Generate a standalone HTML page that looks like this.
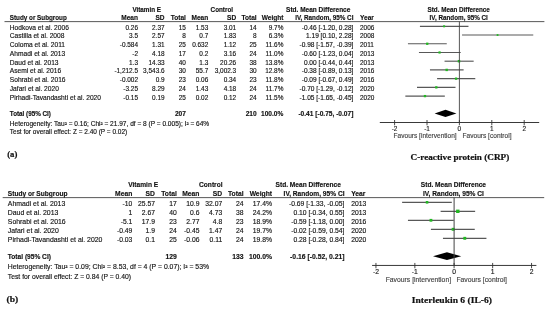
<!DOCTYPE html>
<html><head><meta charset="utf-8"><title>Forest plots</title>
<style>html,body{margin:0;padding:0;background:#fff}svg{display:block}text{stroke:#111;stroke-width:.14px}.f{stroke:#444}</style></head>
<body><svg width="550" height="310" viewBox="0 0 550 310" font-family="'Liberation Sans', sans-serif" fill="#111" style="filter:blur(0.3px)">
<rect width="550" height="310" fill="#fff"/>
<g font-size="6.45">
<text x="146.70" y="11.66" text-anchor="middle" font-weight="bold" font-size="6.3">Vitamin E</text>
<text x="221.80" y="11.66" text-anchor="middle" font-weight="bold" font-size="6.3">Control</text>
<text x="318.20" y="11.66" text-anchor="middle" font-weight="bold" font-size="6.5">Std. Mean Difference</text>
<text x="458.70" y="11.66" text-anchor="middle" font-weight="bold" font-size="6.3">Std. Mean Difference</text>
<text x="9.80" y="20.26" font-weight="bold" font-size="6.3">Study or Subgroup</text>
<text x="138.00" y="20.26" text-anchor="end" font-weight="bold" font-size="6.55">Mean</text>
<text x="164.60" y="20.26" text-anchor="end" font-weight="bold" font-size="6.55">SD</text>
<text x="185.90" y="20.26" text-anchor="end" font-weight="bold" font-size="6.55">Total</text>
<text x="208.25" y="20.26" text-anchor="end" font-weight="bold" font-size="6.55">Mean</text>
<text x="236.20" y="20.26" text-anchor="end" font-weight="bold" font-size="6.55">SD</text>
<text x="256.70" y="20.26" text-anchor="end" font-weight="bold" font-size="6.55">Total</text>
<text x="283.40" y="20.26" text-anchor="end" font-weight="bold" font-size="6.55">Weight</text>
<text x="353.40" y="20.26" text-anchor="end" font-weight="bold" font-size="6.3">IV, Random, 95% CI</text>
<text x="360.00" y="20.26" font-weight="bold" font-size="6.55">Year</text>
<text x="458.70" y="20.26" text-anchor="middle" font-weight="bold" font-size="6.3">IV, Random, 95% CI</text>
<line x1="4.50" y1="21.62" x2="544.40" y2="21.62" stroke="#3a3a3a" stroke-width="0.85"/>
<text x="9.80" y="29.71" font-size="6.65">Hodkova et al. 2006</text>
<text x="138.00" y="29.71" text-anchor="end">0.26</text>
<text x="164.60" y="29.71" text-anchor="end">2.37</text>
<text x="185.90" y="29.71" text-anchor="end">15</text>
<text x="208.25" y="29.71" text-anchor="end">1.53</text>
<text x="236.20" y="29.71" text-anchor="end">3.01</text>
<text x="256.70" y="29.71" text-anchor="end">14</text>
<text x="283.40" y="29.71" text-anchor="end">9.7%</text>
<text x="353.40" y="29.71" text-anchor="end" font-size="6.55">-0.46 [-1.20, 0.28]</text>
<text x="360.00" y="29.71">2006</text>
<line x1="419.92" y1="26.30" x2="468.47" y2="26.30" stroke="#585858" stroke-width="1.15"/>
<rect x="443.10" y="25.30" width="2.0" height="2.0" fill="#22b822"/>
<text x="9.80" y="38.43" font-size="6.65">Castilla et al. 2008</text>
<text x="138.00" y="38.43" text-anchor="end">3.5</text>
<text x="164.60" y="38.43" text-anchor="end">2.57</text>
<text x="185.90" y="38.43" text-anchor="end">8</text>
<text x="208.25" y="38.43" text-anchor="end">0.7</text>
<text x="236.20" y="38.43" text-anchor="end">1.83</text>
<text x="256.70" y="38.43" text-anchor="end">8</text>
<text x="283.40" y="38.43" text-anchor="end">6.3%</text>
<text x="353.40" y="38.43" text-anchor="end" font-size="6.55">1.19 [0.10, 2.28]</text>
<text x="360.00" y="38.43">2008</text>
<line x1="462.04" y1="35.02" x2="533.27" y2="35.02" stroke="#585858" stroke-width="1.15"/>
<rect x="496.66" y="34.12" width="1.8" height="1.8" fill="#22b822"/>
<text x="9.80" y="47.16" font-size="6.65">Coloma et al. 2011</text>
<text x="138.00" y="47.16" text-anchor="end">-0.584</text>
<text x="164.60" y="47.16" text-anchor="end">1.31</text>
<text x="185.90" y="47.16" text-anchor="end">25</text>
<text x="208.25" y="47.16" text-anchor="end">0.632</text>
<text x="236.20" y="47.16" text-anchor="end">1.12</text>
<text x="256.70" y="47.16" text-anchor="end">25</text>
<text x="283.40" y="47.16" text-anchor="end">11.6%</text>
<text x="353.40" y="47.16" text-anchor="end" font-size="6.55">-0.98 [-1.57, -0.39]</text>
<text x="360.00" y="47.16">2011</text>
<line x1="407.93" y1="43.75" x2="446.76" y2="43.75" stroke="#585858" stroke-width="1.15"/>
<rect x="426.10" y="42.60" width="2.3" height="2.3" fill="#22b822"/>
<text x="9.80" y="55.88" font-size="6.65">Ahmadi et al. 2013</text>
<text x="138.00" y="55.88" text-anchor="end">-2</text>
<text x="164.60" y="55.88" text-anchor="end">4.18</text>
<text x="185.90" y="55.88" text-anchor="end">17</text>
<text x="208.25" y="55.88" text-anchor="end">0.2</text>
<text x="236.20" y="55.88" text-anchor="end">3.16</text>
<text x="256.70" y="55.88" text-anchor="end">24</text>
<text x="283.40" y="55.88" text-anchor="end">11.0%</text>
<text x="353.40" y="55.88" text-anchor="end" font-size="6.55">-0.60 [-1.23, 0.04]</text>
<text x="360.00" y="55.88">2013</text>
<line x1="418.95" y1="52.47" x2="460.70" y2="52.47" stroke="#585858" stroke-width="1.15"/>
<rect x="438.46" y="51.37" width="2.2" height="2.2" fill="#22b822"/>
<text x="9.80" y="64.61" font-size="6.65">Daud et al. 2013</text>
<text x="138.00" y="64.61" text-anchor="end">1.3</text>
<text x="164.60" y="64.61" text-anchor="end">14.33</text>
<text x="185.90" y="64.61" text-anchor="end">40</text>
<text x="208.25" y="64.61" text-anchor="end">1.3</text>
<text x="236.20" y="64.61" text-anchor="end">20.26</text>
<text x="256.70" y="64.61" text-anchor="end">38</text>
<text x="283.40" y="64.61" text-anchor="end">13.8%</text>
<text x="353.40" y="64.61" text-anchor="end" font-size="6.55">0.00 [-0.44, 0.44]</text>
<text x="360.00" y="64.61">2013</text>
<line x1="444.54" y1="61.20" x2="473.66" y2="61.20" stroke="#585858" stroke-width="1.15"/>
<rect x="457.75" y="59.95" width="2.5" height="2.5" fill="#22b822"/>
<text x="9.80" y="73.33" font-size="6.65">Asemi et al. 2016</text>
<text x="138.00" y="73.33" text-anchor="end">-1,212.5</text>
<text x="164.60" y="73.33" text-anchor="end">3,543.6</text>
<text x="185.90" y="73.33" text-anchor="end">30</text>
<text x="208.25" y="73.33" text-anchor="end">55.7</text>
<text x="236.20" y="73.33" text-anchor="end">3,002.3</text>
<text x="256.70" y="73.33" text-anchor="end">30</text>
<text x="283.40" y="73.33" text-anchor="end">12.8%</text>
<text x="353.40" y="73.33" text-anchor="end" font-size="6.55">-0.38 [-0.89, 0.13]</text>
<text x="360.00" y="73.33">2016</text>
<line x1="429.96" y1="69.93" x2="463.61" y2="69.93" stroke="#585858" stroke-width="1.15"/>
<rect x="445.49" y="68.73" width="2.4" height="2.4" fill="#22b822"/>
<text x="9.80" y="82.06" font-size="6.65">Sohrabi et al. 2016</text>
<text x="138.00" y="82.06" text-anchor="end">-0.002</text>
<text x="164.60" y="82.06" text-anchor="end">0.9</text>
<text x="185.90" y="82.06" text-anchor="end">23</text>
<text x="208.25" y="82.06" text-anchor="end">0.06</text>
<text x="236.20" y="82.06" text-anchor="end">0.34</text>
<text x="256.70" y="82.06" text-anchor="end">23</text>
<text x="283.40" y="82.06" text-anchor="end">11.8%</text>
<text x="353.40" y="82.06" text-anchor="end" font-size="6.55">-0.09 [-0.67, 0.49]</text>
<text x="360.00" y="82.06">2016</text>
<line x1="437.09" y1="78.65" x2="475.28" y2="78.65" stroke="#585858" stroke-width="1.15"/>
<rect x="454.93" y="77.50" width="2.3" height="2.3" fill="#22b822"/>
<text x="9.80" y="90.78" font-size="6.65">Jafari et al. 2020</text>
<text x="138.00" y="90.78" text-anchor="end">-3.25</text>
<text x="164.60" y="90.78" text-anchor="end">8.29</text>
<text x="185.90" y="90.78" text-anchor="end">24</text>
<text x="208.25" y="90.78" text-anchor="end">1.43</text>
<text x="236.20" y="90.78" text-anchor="end">4.18</text>
<text x="256.70" y="90.78" text-anchor="end">24</text>
<text x="283.40" y="90.78" text-anchor="end">11.7%</text>
<text x="353.40" y="90.78" text-anchor="end" font-size="6.55">-0.70 [-1.29, -0.12]</text>
<text x="360.00" y="90.78">2020</text>
<line x1="417.00" y1="87.38" x2="455.51" y2="87.38" stroke="#585858" stroke-width="1.15"/>
<rect x="435.17" y="86.22" width="2.3" height="2.3" fill="#22b822"/>
<text x="9.80" y="99.51" font-size="6.65">Pirhadi-Tavandashti et al. 2020</text>
<text x="138.00" y="99.51" text-anchor="end">-0.15</text>
<text x="164.60" y="99.51" text-anchor="end">0.19</text>
<text x="185.90" y="99.51" text-anchor="end">25</text>
<text x="208.25" y="99.51" text-anchor="end">0.02</text>
<text x="236.20" y="99.51" text-anchor="end">0.12</text>
<text x="256.70" y="99.51" text-anchor="end">24</text>
<text x="283.40" y="99.51" text-anchor="end">11.5%</text>
<text x="353.40" y="99.51" text-anchor="end" font-size="6.55">-1.05 [-1.65, -0.45]</text>
<text x="360.00" y="99.51">2020</text>
<line x1="405.34" y1="96.10" x2="444.82" y2="96.10" stroke="#585858" stroke-width="1.15"/>
<rect x="423.83" y="94.95" width="2.3" height="2.3" fill="#22b822"/>
<text x="9.80" y="115.96" font-weight="bold" font-size="6.3">Total (95% CI)</text>
<text x="185.90" y="115.96" text-anchor="end" font-weight="bold" font-size="6.6">207</text>
<text x="256.70" y="115.96" text-anchor="end" font-weight="bold" font-size="6.6">210</text>
<text x="283.40" y="115.96" text-anchor="end" font-weight="bold" font-size="6.6">100.0%</text>
<text x="353.40" y="115.96" text-anchor="end" font-weight="bold" font-size="6.6">-0.41 [-0.75, -0.07]</text>
<text x="9.80" y="125.91" font-size="6.55">Heterogeneity: Tau² = 0.16; Chi² = 21.97, df = 8 (P = 0.005); I² = 64%</text>
<text x="9.80" y="134.41" font-size="6.48">Test for overall effect: Z = 2.40 (P = 0.02)</text>
<polygon points="434.60,113.40 445.52,109.70 456.43,113.40 445.52,117.10" fill="#000"/>
<line x1="459.40" y1="21.62" x2="459.40" y2="122.50" stroke="#444" stroke-width="0.9"/>
<line x1="379.80" y1="122.50" x2="539.20" y2="122.50" stroke="#222" stroke-width="0.9"/>
<line x1="394.60" y1="120.00" x2="394.60" y2="125.30" stroke="#333" stroke-width="0.9"/>
<text x="394.60" y="130.81" text-anchor="middle" fill="#222">-2</text>
<line x1="427.00" y1="120.00" x2="427.00" y2="125.30" stroke="#333" stroke-width="0.9"/>
<text x="427.00" y="130.81" text-anchor="middle" fill="#222">-1</text>
<line x1="459.40" y1="120.00" x2="459.40" y2="125.30" stroke="#333" stroke-width="0.9"/>
<text x="459.40" y="130.81" text-anchor="middle" fill="#222">0</text>
<line x1="491.80" y1="120.00" x2="491.80" y2="125.30" stroke="#333" stroke-width="0.9"/>
<text x="491.80" y="130.81" text-anchor="middle" fill="#222">1</text>
<line x1="524.20" y1="120.00" x2="524.20" y2="125.30" stroke="#333" stroke-width="0.9"/>
<text x="524.20" y="130.81" text-anchor="middle" fill="#222">2</text>
<text x="393.60" y="138.21" font-size="6.57" fill="#444" class="f">Favours [intervention]</text>
<text x="462.60" y="138.21" font-size="6.57" fill="#444" class="f">Favours [control]</text>
</g>
<text x="410.60" y="160.00" font-weight="bold" font-size="9.0" font-family="'Liberation Serif', serif" fill="#111" style="stroke-width:0.2px" textLength="98.6" lengthAdjust="spacingAndGlyphs">C-reactive protein (CRP)</text>
<text x="7.20" y="157.10" font-weight="bold" font-size="9.0" font-family="'Liberation Serif', serif" fill="#111" style="stroke-width:0.2px" textLength="10.1" lengthAdjust="spacingAndGlyphs">(a)</text>
<g font-size="6.75">
<text x="143.20" y="187.12" text-anchor="middle" font-weight="bold" font-size="6.6">Vitamin E</text>
<text x="210.80" y="187.12" text-anchor="middle" font-weight="bold" font-size="6.6">Control</text>
<text x="308.20" y="187.12" text-anchor="middle" font-weight="bold" font-size="6.6">Std. Mean Difference</text>
<text x="453.40" y="187.12" text-anchor="middle" font-weight="bold" font-size="6.6">Std. Mean Difference</text>
<text x="7.80" y="196.02" font-weight="bold" font-size="6.6">Study or Subgroup</text>
<text x="132.30" y="196.02" text-anchor="end" font-weight="bold" font-size="6.75">Mean</text>
<text x="155.00" y="196.02" text-anchor="end" font-weight="bold" font-size="6.75">SD</text>
<text x="176.80" y="196.02" text-anchor="end" font-weight="bold" font-size="6.75">Total</text>
<text x="199.50" y="196.02" text-anchor="end" font-weight="bold" font-size="6.75">Mean</text>
<text x="222.20" y="196.02" text-anchor="end" font-weight="bold" font-size="6.75">SD</text>
<text x="243.60" y="196.02" text-anchor="end" font-weight="bold" font-size="6.75">Total</text>
<text x="272.00" y="196.02" text-anchor="end" font-weight="bold" font-size="6.75">Weight</text>
<text x="344.50" y="196.02" text-anchor="end" font-weight="bold" font-size="6.6">IV, Random, 95% CI</text>
<text x="351.20" y="196.02" font-weight="bold" font-size="6.75">Year</text>
<text x="453.40" y="196.02" text-anchor="middle" font-weight="bold" font-size="6.6">IV, Random, 95% CI</text>
<line x1="2.70" y1="197.62" x2="544.20" y2="197.62" stroke="#3a3a3a" stroke-width="0.85"/>
<text x="7.80" y="205.92" font-size="6.9">Ahmadi et al. 2013</text>
<text x="132.30" y="205.92" text-anchor="end">-10</text>
<text x="155.00" y="205.92" text-anchor="end">25.57</text>
<text x="176.80" y="205.92" text-anchor="end">17</text>
<text x="199.50" y="205.92" text-anchor="end">10.9</text>
<text x="222.20" y="205.92" text-anchor="end">32.07</text>
<text x="243.60" y="205.92" text-anchor="end">24</text>
<text x="272.00" y="205.92" text-anchor="end">17.4%</text>
<text x="344.50" y="205.92" text-anchor="end">-0.69 [-1.33, -0.05]</text>
<text x="351.20" y="205.92">2013</text>
<line x1="402.11" y1="202.30" x2="451.81" y2="202.30" stroke="#585858" stroke-width="1.15"/>
<rect x="425.76" y="201.00" width="2.6" height="2.6" fill="#22b822"/>
<text x="7.80" y="214.92" font-size="6.9">Daud et al. 2013</text>
<text x="132.30" y="214.92" text-anchor="end">1</text>
<text x="155.00" y="214.92" text-anchor="end">2.67</text>
<text x="176.80" y="214.92" text-anchor="end">40</text>
<text x="199.50" y="214.92" text-anchor="end">0.6</text>
<text x="222.20" y="214.92" text-anchor="end">4.73</text>
<text x="243.60" y="214.92" text-anchor="end">38</text>
<text x="272.00" y="214.92" text-anchor="end">24.2%</text>
<text x="344.50" y="214.92" text-anchor="end">0.10 [-0.34, 0.55]</text>
<text x="351.20" y="214.92">2013</text>
<line x1="440.62" y1="211.30" x2="475.14" y2="211.30" stroke="#585858" stroke-width="1.15"/>
<rect x="456.09" y="209.60" width="3.4" height="3.4" fill="#22b822"/>
<text x="7.80" y="223.92" font-size="6.9">Sohrabi et al. 2016</text>
<text x="132.30" y="223.92" text-anchor="end">-5.1</text>
<text x="155.00" y="223.92" text-anchor="end">17.9</text>
<text x="176.80" y="223.92" text-anchor="end">23</text>
<text x="199.50" y="223.92" text-anchor="end">2.77</text>
<text x="222.20" y="223.92" text-anchor="end">4.8</text>
<text x="243.60" y="223.92" text-anchor="end">23</text>
<text x="272.00" y="223.92" text-anchor="end">18.9%</text>
<text x="344.50" y="223.92" text-anchor="end">-0.59 [-1.18, 0.00]</text>
<text x="351.20" y="223.92">2016</text>
<line x1="407.95" y1="220.30" x2="453.75" y2="220.30" stroke="#585858" stroke-width="1.15"/>
<rect x="429.55" y="218.90" width="2.8" height="2.8" fill="#22b822"/>
<text x="7.80" y="232.92" font-size="6.9">Jafari et al. 2020</text>
<text x="132.30" y="232.92" text-anchor="end">-0.49</text>
<text x="155.00" y="232.92" text-anchor="end">1.9</text>
<text x="176.80" y="232.92" text-anchor="end">24</text>
<text x="199.50" y="232.92" text-anchor="end">-0.45</text>
<text x="222.20" y="232.92" text-anchor="end">1.47</text>
<text x="243.60" y="232.92" text-anchor="end">24</text>
<text x="272.00" y="232.92" text-anchor="end">19.7%</text>
<text x="344.50" y="232.92" text-anchor="end">-0.02 [-0.59, 0.54]</text>
<text x="351.20" y="232.92">2020</text>
<line x1="430.90" y1="229.30" x2="474.76" y2="229.30" stroke="#585858" stroke-width="1.15"/>
<rect x="451.67" y="227.85" width="2.9" height="2.9" fill="#22b822"/>
<text x="7.80" y="241.92" font-size="6.9">Pirhadi-Tavandashti et al. 2020</text>
<text x="132.30" y="241.92" text-anchor="end">-0.03</text>
<text x="155.00" y="241.92" text-anchor="end">0.1</text>
<text x="176.80" y="241.92" text-anchor="end">25</text>
<text x="199.50" y="241.92" text-anchor="end">-0.06</text>
<text x="222.20" y="241.92" text-anchor="end">0.11</text>
<text x="243.60" y="241.92" text-anchor="end">24</text>
<text x="272.00" y="241.92" text-anchor="end">19.8%</text>
<text x="344.50" y="241.92" text-anchor="end">0.28 [-0.28, 0.84]</text>
<text x="351.20" y="241.92">2020</text>
<line x1="442.96" y1="238.30" x2="486.43" y2="238.30" stroke="#585858" stroke-width="1.15"/>
<rect x="463.34" y="236.85" width="2.9" height="2.9" fill="#22b822"/>
<text x="7.80" y="259.42" font-weight="bold" font-size="6.6">Total (95% CI)</text>
<text x="176.80" y="259.42" text-anchor="end" font-weight="bold" font-size="6.8">129</text>
<text x="243.60" y="259.42" text-anchor="end" font-weight="bold" font-size="6.8">133</text>
<text x="272.00" y="259.42" text-anchor="end" font-weight="bold" font-size="6.8">100.0%</text>
<text x="344.50" y="259.42" text-anchor="end" font-weight="bold" font-size="6.8">-0.16 [-0.52, 0.21]</text>
<text x="7.80" y="268.92" font-size="6.87">Heterogeneity: Tau² = 0.09; Chi² = 8.53, df = 4 (P = 0.07); I² = 53%</text>
<text x="7.80" y="278.82" font-size="6.8">Test for overall effect: Z = 0.84 (P = 0.40)</text>
<polygon points="433.02,256.20 446.93,252.30 461.22,256.20 446.93,260.10" fill="#000"/>
<line x1="454.10" y1="197.62" x2="454.10" y2="265.45" stroke="#444" stroke-width="1.0"/>
<line x1="372.10" y1="265.45" x2="536.40" y2="265.45" stroke="#222" stroke-width="0.9"/>
<line x1="375.95" y1="262.95" x2="375.95" y2="268.25" stroke="#333" stroke-width="0.9"/>
<text x="375.95" y="273.72" text-anchor="middle" fill="#222">-2</text>
<line x1="414.85" y1="262.95" x2="414.85" y2="268.25" stroke="#333" stroke-width="0.9"/>
<text x="414.85" y="273.72" text-anchor="middle" fill="#222">-1</text>
<line x1="454.10" y1="262.95" x2="454.10" y2="268.25" stroke="#333" stroke-width="0.9"/>
<text x="454.10" y="273.72" text-anchor="middle" fill="#222">0</text>
<line x1="492.65" y1="262.95" x2="492.65" y2="268.25" stroke="#333" stroke-width="0.9"/>
<text x="492.65" y="273.72" text-anchor="middle" fill="#222">1</text>
<line x1="531.55" y1="262.95" x2="531.55" y2="268.25" stroke="#333" stroke-width="0.9"/>
<text x="531.55" y="273.72" text-anchor="middle" fill="#222">2</text>
<text x="385.70" y="281.52" font-size="6.8" fill="#444" class="f">Favours [intervention]</text>
<text x="456.40" y="281.52" font-size="6.8" fill="#444" class="f">Favours [control]</text>
</g>
<text x="411.80" y="302.80" font-weight="bold" font-size="9.0" font-family="'Liberation Serif', serif" fill="#111" style="stroke-width:0.2px" textLength="80.1" lengthAdjust="spacingAndGlyphs">Interleukin 6 (IL-6)</text>
<text x="6.60" y="301.90" font-weight="bold" font-size="9.0" font-family="'Liberation Serif', serif" fill="#111" style="stroke-width:0.2px" textLength="11.7" lengthAdjust="spacingAndGlyphs">(b)</text>
</svg></body></html>
